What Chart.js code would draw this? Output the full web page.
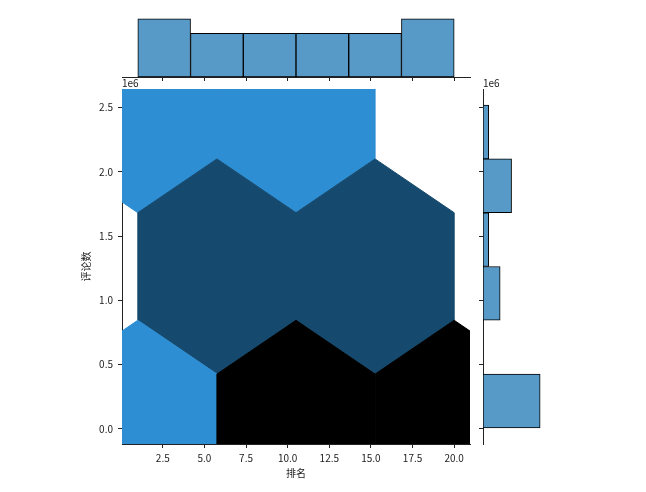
<!DOCTYPE html>
<html>
<head>
<meta charset="utf-8">
<script src="https://cdn.jsdelivr.net/npm/chart.js@4"></script>
<style>
  html, body { margin: 0; padding: 0; background: #fff; }
  #wrap { position: relative; width: 646px; height: 492px; }
  #wrap canvas { position: absolute; left: 0; top: 0; }
</style>
</head>
<body>
<div id="wrap">
  <canvas id="mainChart" width="646" height="492"></canvas>
  <canvas id="topChart" width="646" height="492"></canvas>
  <canvas id="rightChart" width="646" height="492"></canvas>
</div>
<script>
// data extents (排名 1..20, 评论数 in units of 1)
const RANK_MIN = 1;
const RANK_MAX = 20;
const REVIEW_MIN = 0.008e6;
const REVIEW_MAX = 2.519e6;

// hexbin cells: centers + counts
const hexX = [1, 10.5, 5.75, 15.25, 1, 10.5, 20];
const hexY = [2.519e6, 2.519e6, 1.2635e6, 1.2635e6, 0.008e6, 0.008e6, 0.008e6];
const hexCounts = [1, 1, 3, 3, 1, 5, 6];

// marginal histograms (6 bins each)
const rankBinCounts = [4, 3, 3, 3, 3, 4];
const reviewBinCounts = [10, 0, 3, 1, 5, 1];

// ticks
const xTicks = [2.5, 5, 7.5, 10, 12.5, 15, 17.5, 20];
const yTicks = [0, 0.5e6, 1e6, 1.5e6, 2e6, 2.5e6];

const GRID_X = 2;
const GRID_Y = 1;
const HEX_W = (RANK_MAX - RANK_MIN) / GRID_X;
const HEX_H = (REVIEW_MAX - REVIEW_MIN) / GRID_Y;
const HEX_CORNERS = [[0.5, -0.5], [0.5, 0.5], [0, 1], [-0.5, 0.5], [-0.5, -0.5], [0, -1]];

const X_PAD = (RANK_MAX - RANK_MIN) * 0.05;
const Y_PAD = (REVIEW_MAX - REVIEW_MIN) * 0.05;
const X_LIM = [RANK_MIN - X_PAD, RANK_MAX + X_PAD];
const Y_LIM = [REVIEW_MIN - Y_PAD, REVIEW_MAX + Y_PAD];

// layout of the joint grid (pixels)
const AREA = { left: 122, right: 470, top: 89, bottom: 444 };
const W = 646;
const H = 492;

const HIST_COLOR = "#5799c7";
const FONT = '"Noto Sans CJK SC", "DejaVu Sans", sans-serif';

Chart.defaults.font.family = FONT;
Chart.defaults.font.size = 10;
Chart.defaults.color = "#222";
Chart.defaults.animation = false;

const hexColor = (c) => {
  if (c <= 2) return "#2e8ed3";
  if (c <= 4) return "#15496d";
  return "#000000";
};

const binCenters = (lo, hi, n) => {
  const w = (hi - lo) / n;
  return Array.from({ length: n }, (_, i) => lo + (i + 0.5) * w);
};

// bin width in pixels, so bars touch like a histogram
const rankBinPx = ((RANK_MAX - RANK_MIN) / rankBinCounts.length) * (AREA.right - AREA.left) / (X_LIM[1] - X_LIM[0]);
const reviewBinPx = ((REVIEW_MAX - REVIEW_MIN) / reviewBinCounts.length) * (AREA.bottom - AREA.top) / (Y_LIM[1] - Y_LIM[0]);

const tickMarks = {
  display: true,
  drawOnChartArea: false,
  drawTicks: true,
  tickLength: 4,
  color: "#222",
};
const spine = { display: true, color: "#222", width: 1 };
const noPlugins = { legend: { display: false }, tooltip: { enabled: false } };

const hexbinPlugin = {
  id: "hexbin",
  beforeDatasetsDraw(chart) {
    const { ctx, chartArea, scales } = chart;
    const x = scales.x;
    const y = scales.y;
    ctx.save();
    ctx.beginPath();
    ctx.rect(chartArea.left, chartArea.top, chartArea.width, chartArea.height);
    ctx.clip();
    chart.data.datasets[0].data.forEach((p) => {
      ctx.beginPath();
      HEX_CORNERS.forEach(([ox, oy], i) => {
        const px = x.getPixelForValue(p.x + ox * HEX_W);
        const py = y.getPixelForValue(p.y + (oy * HEX_H) / 3);
        if (i === 0) ctx.moveTo(px, py);
        else ctx.lineTo(px, py);
      });
      ctx.closePath();
      ctx.fillStyle = hexColor(p.c);
      ctx.strokeStyle = hexColor(p.c);
      ctx.lineWidth = 1;
      ctx.fill();
      ctx.stroke();
    });
    ctx.restore();
  },
};

// "1e6" offset label above the y axis
const offsetTextPlugin = {
  id: "offsetText",
  afterDraw(chart) {
    const { ctx, chartArea } = chart;
    ctx.save();
    ctx.font = `10px ${FONT}`;
    ctx.fillStyle = "#222";
    ctx.textAlign = "left";
    ctx.textBaseline = "alphabetic";
    ctx.fillText("1e6", chartArea.left, chartArea.top - 2.5);
    ctx.restore();
  },
};

// main hexbin axes
new Chart(document.getElementById("mainChart"), {
  type: "scatter",
  data: {
    datasets: [{
      data: hexX.map((x, i) => ({ x, y: hexY[i], c: hexCounts[i] })),
      pointRadius: 0,
      pointHoverRadius: 0,
    }],
  },
  options: {
    responsive: false,
    layout: { padding: { left: 0, top: AREA.top, right: W - AREA.right, bottom: 0 } },
    plugins: noPlugins,
    scales: {
      x: {
        type: "linear",
        min: X_LIM[0],
        max: X_LIM[1],
        afterBuildTicks: (s) => { s.ticks = xTicks.map((v) => ({ value: v })); },
        afterFit: (s) => { s.height = H - AREA.bottom; },
        ticks: { padding: 4, maxRotation: 0, callback: (v) => Number(v).toFixed(1) },
        grid: tickMarks,
        border: spine,
        title: { display: true, text: "排名", padding: { top: 0, bottom: 13 } },
      },
      y: {
        type: "linear",
        min: Y_LIM[0],
        max: Y_LIM[1],
        afterBuildTicks: (s) => { s.ticks = yTicks.map((v) => ({ value: v })); },
        afterFit: (s) => { s.width = AREA.left; },
        ticks: { padding: 5, callback: (v) => (Number(v) / 1e6).toFixed(1) },
        grid: tickMarks,
        border: spine,
        title: { display: true, text: "评论数", padding: { top: 80, bottom: 0 } },
      },
    },
  },
  plugins: [hexbinPlugin, offsetTextPlugin],
});

// top marginal: 排名 histogram
new Chart(document.getElementById("topChart"), {
  type: "bar",
  data: {
    datasets: [{
      data: binCenters(RANK_MIN, RANK_MAX, rankBinCounts.length).map((x, i) => ({ x, y: rankBinCounts[i] })),
      backgroundColor: HIST_COLOR,
      borderColor: "#000",
      borderWidth: 1,
      borderSkipped: false,
      barThickness: rankBinPx,
    }],
  },
  options: {
    responsive: false,
    layout: { padding: { left: AREA.left, top: 16, right: W - AREA.right, bottom: H - 85 } },
    plugins: noPlugins,
    scales: {
      x: {
        type: "linear",
        offset: false,
        min: X_LIM[0],
        max: X_LIM[1],
        afterBuildTicks: (s) => { s.ticks = xTicks.map((v) => ({ value: v })); },
        afterFit: (s) => { s.height = 8; },
        ticks: { display: false },
        grid: { ...tickMarks, offset: false },
        border: spine,
      },
      y: { display: false, min: 0, max: Math.max(...rankBinCounts) * 1.05 },
    },
  },
});

// right marginal: 评论数 histogram
new Chart(document.getElementById("rightChart"), {
  type: "bar",
  data: {
    datasets: [{
      data: binCenters(REVIEW_MIN, REVIEW_MAX, reviewBinCounts.length).map((y, i) => ({ x: reviewBinCounts[i], y })),
      backgroundColor: HIST_COLOR,
      borderColor: "#000",
      borderWidth: 1,
      borderSkipped: false,
      barThickness: reviewBinPx,
    }],
  },
  options: {
    responsive: false,
    indexAxis: "y",
    layout: { padding: { left: 478, top: AREA.top, right: 103, bottom: H - AREA.bottom } },
    plugins: noPlugins,
    scales: {
      y: {
        type: "linear",
        offset: false,
        min: Y_LIM[0],
        max: Y_LIM[1],
        afterBuildTicks: (s) => { s.ticks = yTicks.map((v) => ({ value: v })); },
        afterFit: (s) => { s.width = 5; },
        ticks: { display: false },
        grid: { ...tickMarks, offset: false },
        border: spine,
      },
      x: { display: false, min: 0, max: Math.max(...reviewBinCounts) * 1.05 },
    },
  },
  plugins: [offsetTextPlugin],
});
</script>
</body>
</html>
